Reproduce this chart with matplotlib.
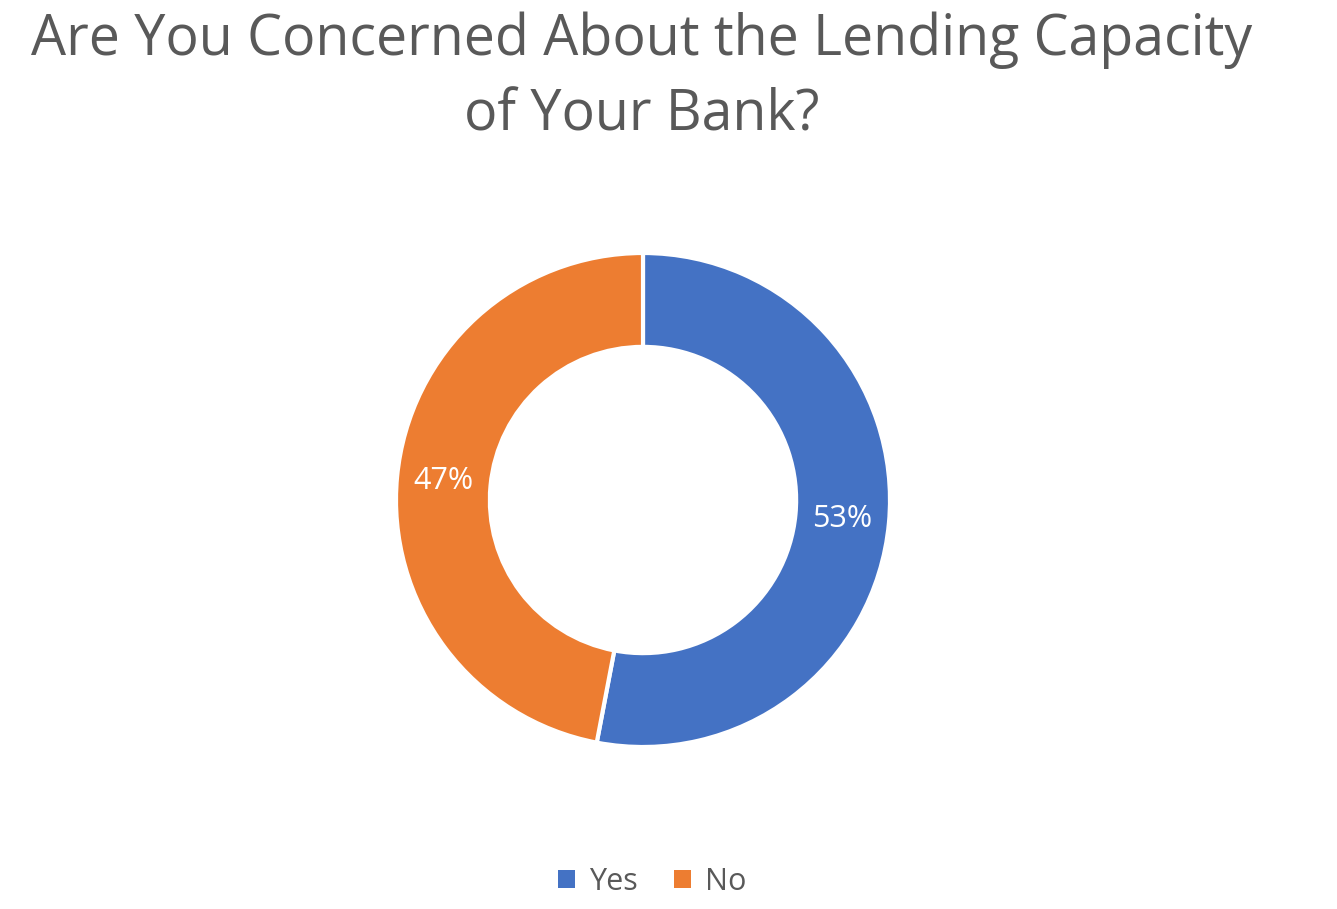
import matplotlib
matplotlib.use("Agg")
import matplotlib.pyplot as plt
from matplotlib.patches import Patch

plt.rcParams["font.family"] = ["Open Sans", "DejaVu Sans"]

labels = ["Yes", "No"]
shares = [53, 47]
colors = ["#4472C4", "#ED7D31"]
title = "Are You Concerned About the Lending Capacity\nof Your Bank?"

W, H = 1337, 909
fig = plt.figure(figsize=(W / 100, H / 100), dpi=100)

# donut centre ~ (643, 500) px, outer radius ~ 247 px
cx, cy, r = 643, 500, 247
ax = fig.add_axes([(cx - r) / W, (H - cy - r) / H, 2 * r / W, 2 * r / H])
wedges, texts, autotexts = ax.pie(
    shares,
    colors=colors,
    startangle=90,
    counterclock=False,
    radius=1,
    autopct="%.0f%%",
    pctdistance=0.81,
    wedgeprops=dict(width=0.38, edgecolor="white", linewidth=3),
    textprops=dict(color="white", fontsize=22),
)
ax.set_xlim(-1, 1)
ax.set_ylim(-1, 1)
ax.axis("off")

fig.text(0.480, 1 - 78 / H, title, ha="center", va="center",
         fontsize=40, color="#595959", linespacing=1.45)

handles = [Patch(facecolor=c, label=l) for c, l in zip(colors, labels)]
fig.legend(handles=handles, loc="center", bbox_to_anchor=(652 / W, 1 - 882 / H),
           ncol=2, frameon=False, fontsize=22, labelcolor="#595959",
           handlelength=0.55, handleheight=0.55, handletextpad=0.45, columnspacing=1.2)

fig.savefig("out.png", dpi=100)
